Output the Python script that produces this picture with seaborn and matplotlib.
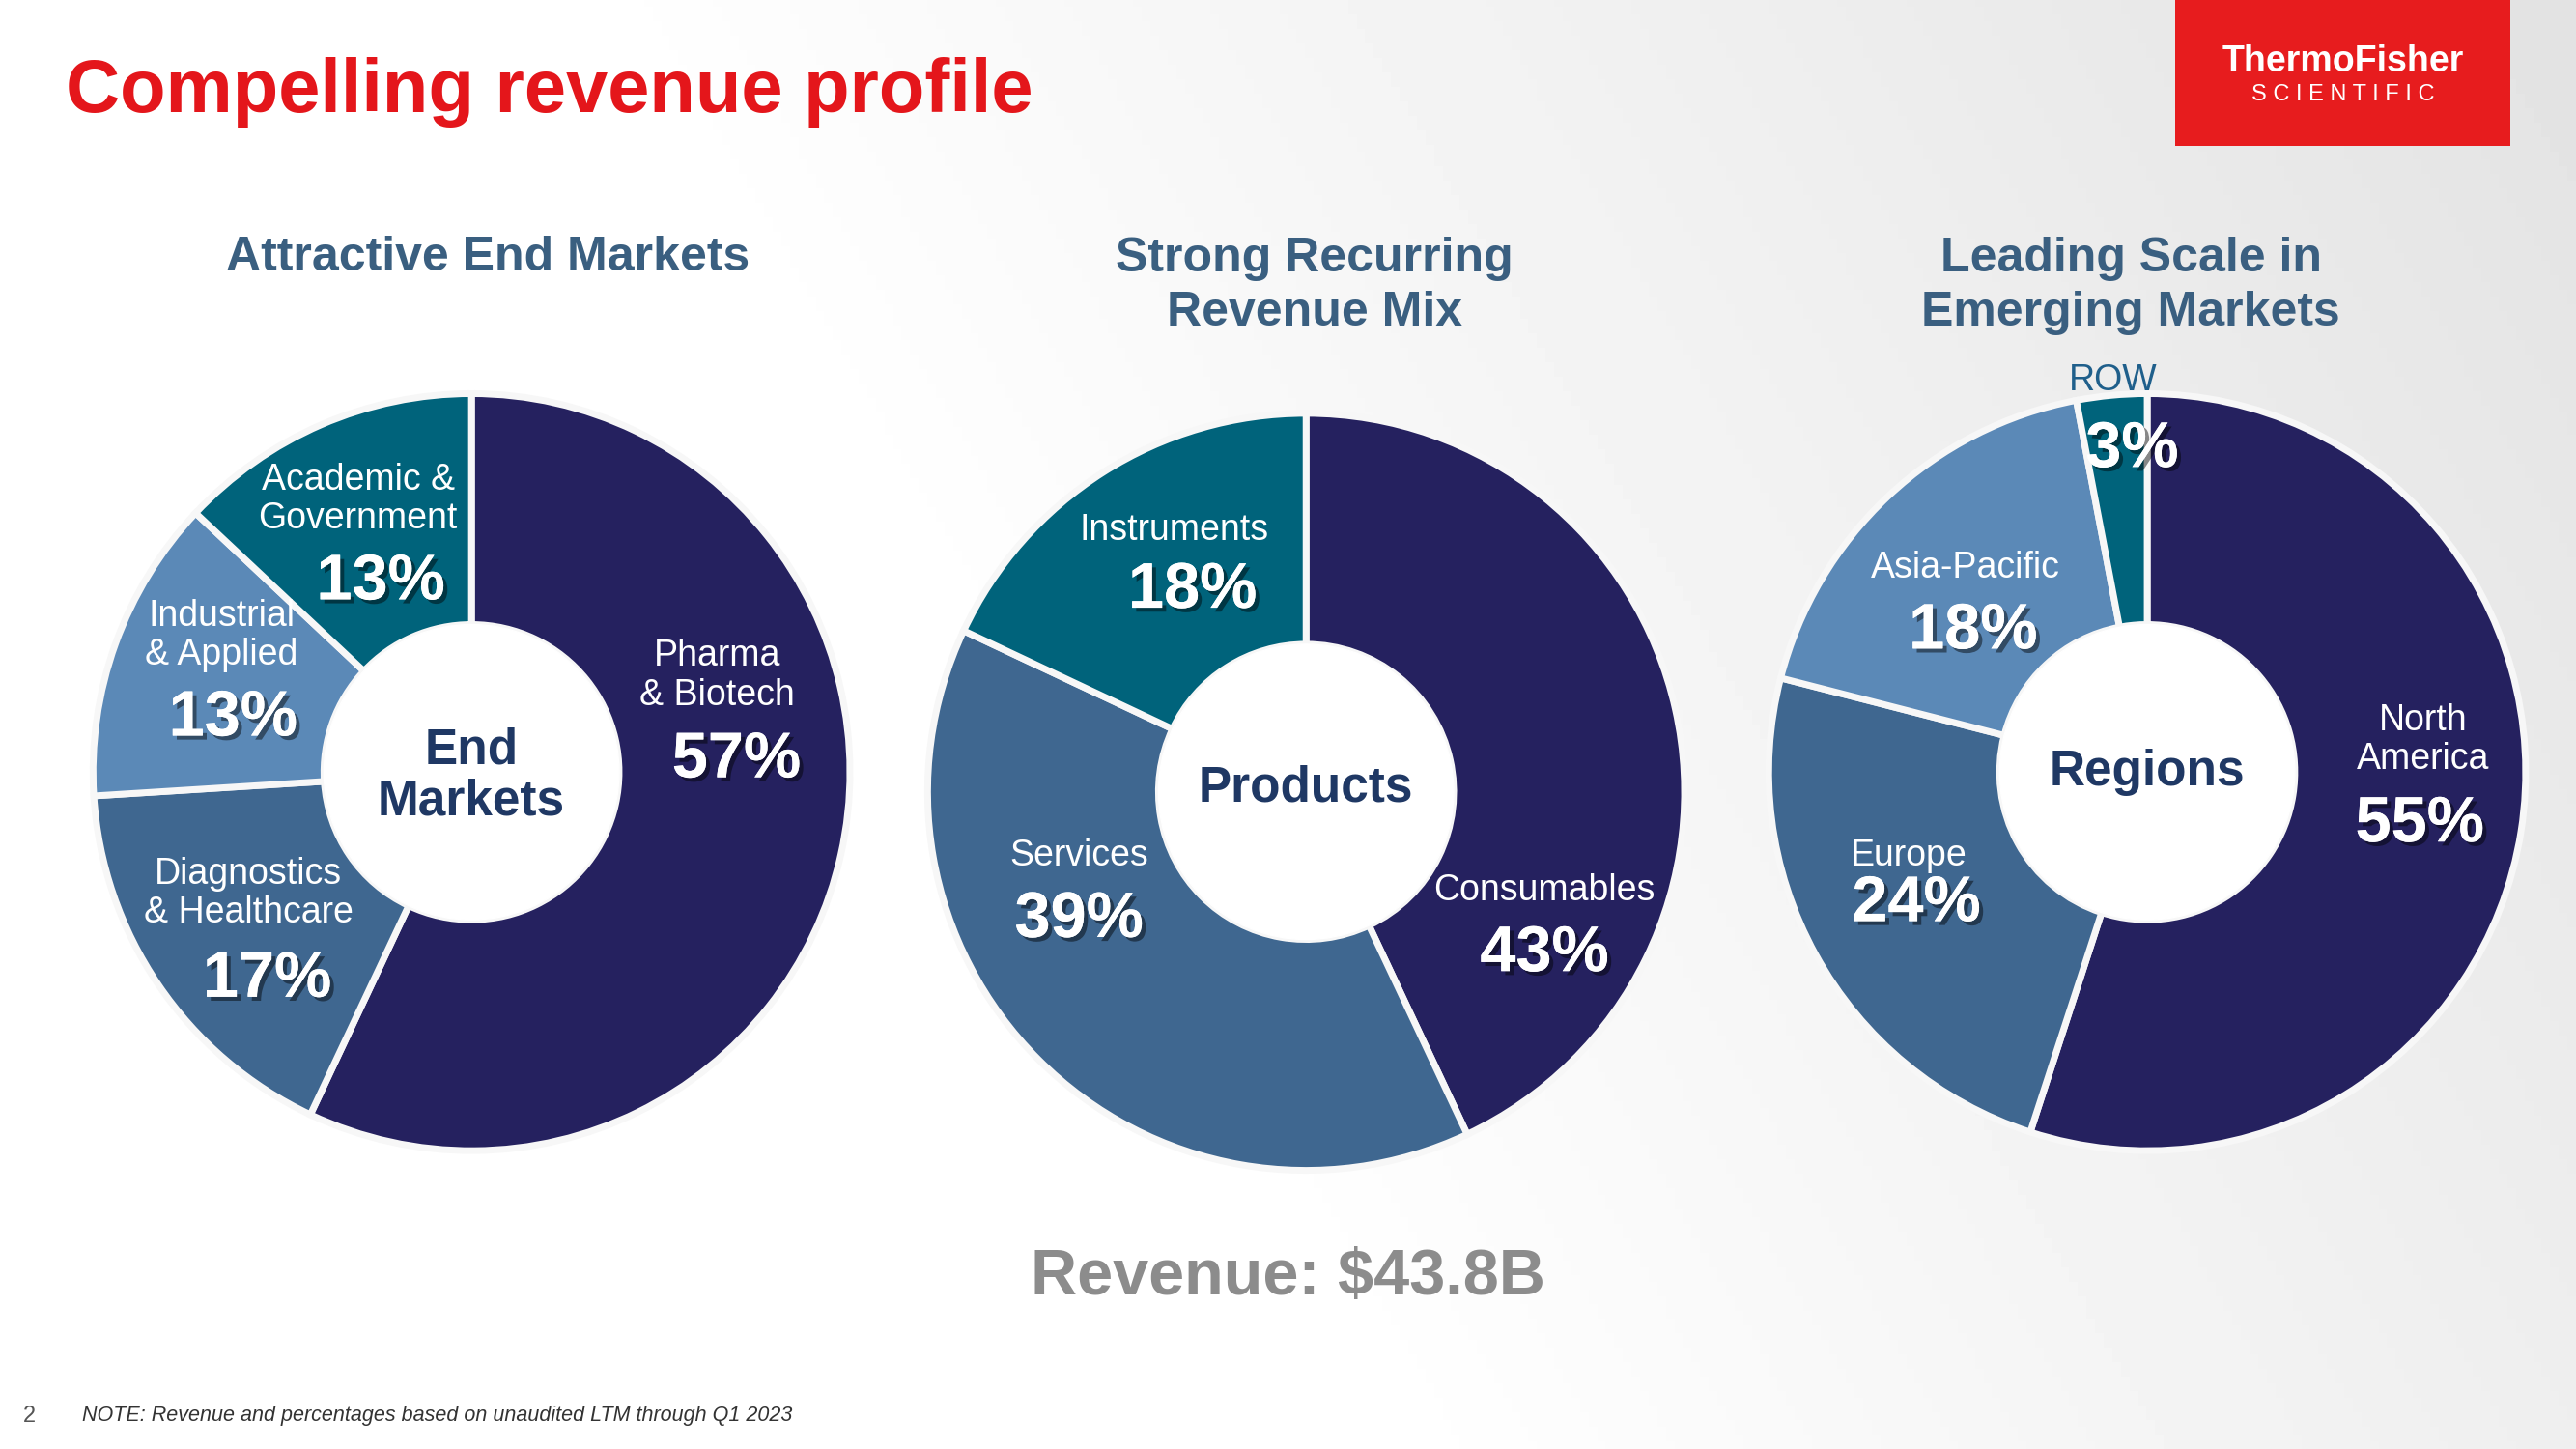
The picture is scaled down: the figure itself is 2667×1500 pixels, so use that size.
import numpy as np
import matplotlib
matplotlib.use("Agg")
import matplotlib.pyplot as plt
import matplotlib.patheffects as pe
import seaborn as sns

sns.set_theme(style="white")
plt.rcParams['font.family'] = ['Liberation Sans', 'DejaVu Sans']

# ---- data ----
end_markets = ["Pharma\n& Biotech", "Diagnostics\n& Healthcare", "Industrial\n& Applied", "Academic &\nGovernment"]
end_values = [57, 17, 13, 13]
products = ["Consumables", "Services", "Instruments"]
product_values = [43, 39, 18]
regions = ["North\nAmerica", "Europe", "Asia-Pacific", "ROW"]
region_values = [55, 24, 18, 3]

NAVY, STEEL, LIGHT, TEAL = "#25215f", "#3f6790", "#5b89b7", "#00637b"
W, H = 1568, 882

fig = plt.figure(figsize=(26.67, 15), dpi=100)
bg = fig.add_axes([0, 0, 1, 1])
xx, yy = np.meshgrid(np.linspace(0, 1, 300), np.linspace(0, 1, 200))
g = np.clip((xx - 0.45) * 1.1 + (1 - yy) * 0.35 - 0.1, 0, 1)
bg.imshow(1 - 0.13 * g, cmap="gray", vmin=0, vmax=1, extent=[0, 1, 0, 1], aspect="auto", origin="upper")
bg.axis("off")

shadow = [pe.withSimplePatchShadow(offset=(3, -3), shadow_rgbFace="black", alpha=0.45), pe.Normal()]

def donut(cx, cy, r, vals, cols, labels, lpos, ppos, center, ctxt_y=0.0, label_cols=None):
    ax = fig.add_axes([(cx - r) / W, 1 - (cy + r) / H, 2 * r / W, 2 * r / H])
    ax.pie(vals, colors=cols, startangle=90, counterclock=False, radius=1,
           wedgeprops=dict(width=0.61, edgecolor="#f7f7f7", linewidth=5))
    ax.add_patch(plt.Circle((0, 0), 0.39, color="white", zorder=5))
    ax.set_xlim(-1.02, 1.02); ax.set_ylim(-1.02, 1.02); ax.set_aspect("equal"); ax.axis("off")
    for i, (lab, v) in enumerate(zip(labels, vals)):
        lc = label_cols[i] if label_cols else "white"
        ax.text(*lpos[i], lab, ha="center", va="center", fontsize=27, color=lc, zorder=6, linespacing=1.15)
        ax.text(*ppos[i], f"{v}%", ha="center", va="center", fontsize=48, color="white",
                fontweight="bold", zorder=6, path_effects=shadow)
    ax.text(0, ctxt_y, center, ha="center", va="center", fontsize=37, color="#1f3864",
            fontweight="bold", zorder=7, linespacing=1.1)

donut(287, 470, 235, end_values, [NAVY, STEEL, LIGHT, TEAL], end_markets,
      [(0.65, 0.255), (-0.59, -0.32), (-0.66, 0.36), (-0.30, 0.72)],
      [(0.70, 0.03), (-0.54, -0.55), (-0.63, 0.14), (-0.24, 0.50)], "End\nMarkets", -0.01)
donut(795, 482, 235, product_values, [NAVY, STEEL, TEAL], products,
      [(0.63, -0.26), (-0.60, -0.17), (-0.35, 0.69)],
      [(0.63, -0.43), (-0.60, -0.34), (-0.30, 0.53)], "Products", 0.01)
donut(1307, 470, 235, region_values, [NAVY, STEEL, LIGHT, TEAL], regions,
      [(0.73, 0.085), (-0.63, -0.22), (-0.48, 0.54), (-0.09, 1.035)],
      [(0.72, -0.14), (-0.61, -0.35), (-0.46, 0.37), (-0.04, 0.85)], "Regions", 0.0,
      label_cols=["white", "white", "white", "#1f5f8b"])

def t(x, y, s, **kw):
    fig.text(x / W, 1 - y / H, s, **kw)

t(40, 56, "Compelling revenue profile", fontsize=56, color="#e4161b", fontweight="bold", va="center")
hc = "#3a5f80"
t(297, 157, "Attractive End Markets", fontsize=36, color=hc, fontweight="bold", ha="center", va="center")
t(800, 174, "Strong Recurring\nRevenue Mix", fontsize=36, color=hc, fontweight="bold", ha="center", va="center", linespacing=1.3)
t(1297, 174, "Leading Scale in\nEmerging Markets", fontsize=36, color=hc, fontweight="bold", ha="center", va="center", linespacing=1.3)
t(784, 778, "Revenue: $43.8B", fontsize=48, color="#8c8c8c", fontweight="bold", ha="center", va="center")
t(14, 862, "2", fontsize=17, color="#555555", va="center")
t(50, 862, "NOTE: Revenue and percentages based on unaudited LTM through Q1 2023", fontsize=15.5,
  color="#333333", style="italic", va="center")

# logo
logo = fig.add_axes([1324 / W, 1 - 89 / H, 204 / W, 89 / H])
logo.set_facecolor("#e71c1e"); logo.set_xticks([]); logo.set_yticks([])
for s in logo.spines.values(): s.set_visible(False)
logo.text(0.5, 0.58, "ThermoFisher", fontsize=27, color="white", fontweight="bold", ha="center", va="center", transform=logo.transAxes)
logo.text(0.5, 0.35, "S C I E N T I F I C", fontsize=17, color="white", ha="center", va="center", transform=logo.transAxes)

fig.savefig("out.png", dpi=100)
